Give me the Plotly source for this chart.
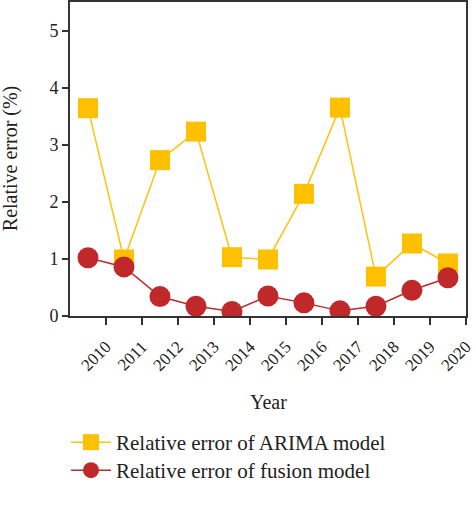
import plotly.graph_objects as go

years = ["2010", "2011", "2012", "2013", "2014", "2015", "2016", "2017", "2018", "2019", "2020"]
arima = [3.64, 0.99, 2.73, 3.23, 1.03, 0.99, 2.14, 3.65, 0.69, 1.27, 0.92]
fusion = [1.02, 0.86, 0.34, 0.17, 0.08, 0.35, 0.23, 0.09, 0.17, 0.45, 0.67]

# points sit in the middle of each interval, tick labels on the interval's right edge
xpos = [i + 0.5 for i in range(len(years))]
tickpos = [i + 1 for i in range(len(years))]

FONT = "Liberation Serif"
AX = "#333333"
TXT = "#222222"

fig = go.Figure()
fig.add_trace(go.Scatter(
    x=xpos, y=arima, mode="lines+markers",
    name="Relative error of ARIMA model", legend="legend",
    line=dict(color="#FFC20E", width=1.5),
    marker=dict(symbol="square", size=20, color="#FFC000"),
))
fig.add_trace(go.Scatter(
    x=xpos, y=fusion, mode="lines+markers",
    name="Relative error of fusion model", legend="legend2",
    line=dict(color="#C0282A", width=1.5),
    marker=dict(symbol="circle", size=21, color="#C0282A"),
))

legend_common = dict(
    xref="container", yref="container", xanchor="left", yanchor="top",
    font=dict(family=FONT, size=21, color=TXT),
    bgcolor="rgba(0,0,0,0)", itemwidth=40,
)

fig.update_layout(
    width=474, height=510,
    margin=dict(l=70, r=8, t=2, b=194, autoexpand=False),
    paper_bgcolor="white", plot_bgcolor="white",
    font=dict(family=FONT, size=17, color=TXT),
    showlegend=True,
    legend=dict(x=66 / 474, y=1 - 422 / 510, **legend_common),
    legend2=dict(x=66 / 474, y=1 - 450 / 510, **legend_common),
    xaxis=dict(
        range=[0, len(years) + 0.002], tickmode="array", tickvals=tickpos, ticktext=years,
        tickangle=-45, ticks="outside", ticklen=7, tickwidth=1.5, tickcolor=AX,
        showline=True, linecolor=AX, linewidth=2, mirror=True,
        showgrid=False, zeroline=False, automargin=False, ticklabeloverflow="allow",
        ticklabelstandoff=5,
        tickfont=dict(family=FONT, size=17, color=TXT),
    ),
    yaxis=dict(
        range=[0, 5.5], tickvals=[0, 1, 2, 3, 4, 5],
        ticks="outside", ticklen=6, tickwidth=1.5, tickcolor=AX,
        showline=True, linecolor=AX, linewidth=2, mirror=True,
        showgrid=False, zeroline=False, automargin=False,
        tickfont=dict(family=FONT, size=18, color=TXT),
    ),
    annotations=[
        dict(text="Year", x=0.5, y=-0.273, xref="paper", yref="paper",
             showarrow=False, xanchor="center", yanchor="middle",
             font=dict(family=FONT, size=20, color=TXT)),
        dict(text="Relative error (%)", x=-0.151, y=0.5, xref="paper", yref="paper",
             showarrow=False, textangle=-90, xanchor="center", yanchor="middle",
             font=dict(family=FONT, size=20, color=TXT)),
    ],
)

fig.write_html("out.html", config={"displayModeBar": False},
               post_script="document.body.style.margin='0';")
